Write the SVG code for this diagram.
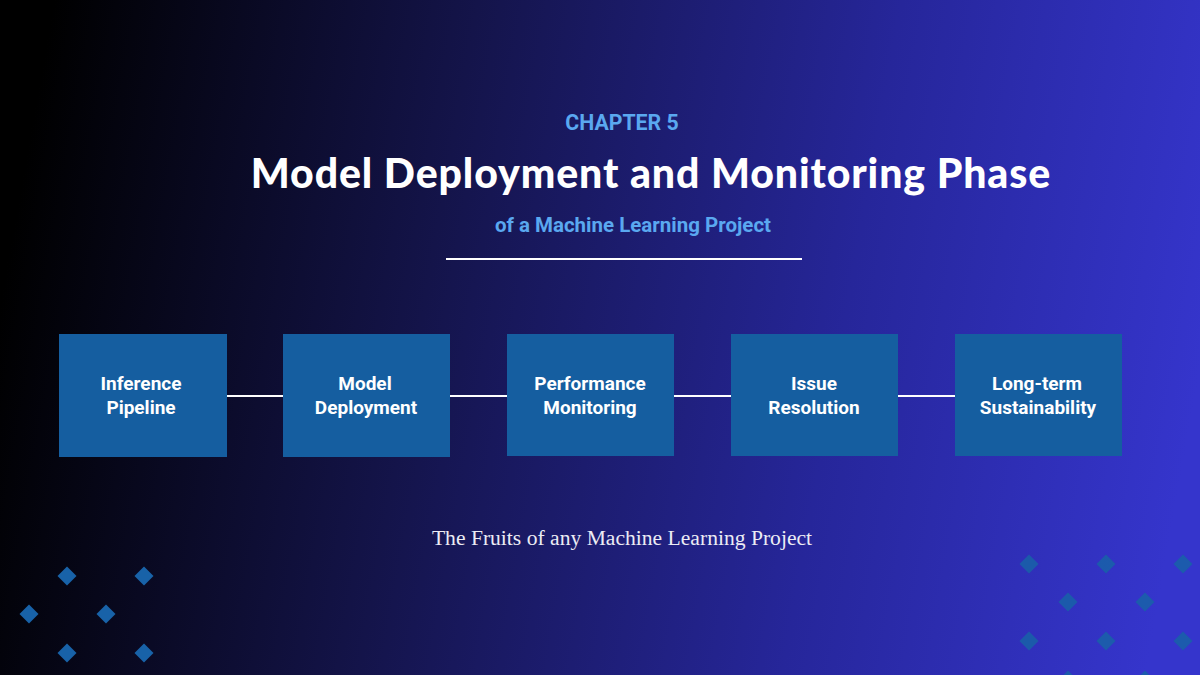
<svg xmlns="http://www.w3.org/2000/svg" width="1200" height="675" viewBox="0 0 1200 675">
<defs>
<linearGradient id="bg" x1="0" y1="0.45" x2="1" y2="0.55">
<stop offset="0" stop-color="#000000"/>
<stop offset="0.35" stop-color="#14144a"/>
<stop offset="0.7" stop-color="#26269a"/>
<stop offset="1" stop-color="#3535cc"/>
</linearGradient>
<style>
.box{fill:#155ea0;}
.lbl{font-family:Roboto,"Liberation Sans",sans-serif;font-weight:700;font-size:19px;fill:#ffffff;text-anchor:middle;}
.conn{stroke:#ffffff;stroke-width:2;}
.dia{fill:#1862a8;}
</style>
<path id="d" d="M0,-9.5 L9.5,0 L0,9.5 L-9.5,0 Z"/>
</defs>
<rect width="1200" height="675" fill="url(#bg)"/>
<text x="622" y="130" font-family="Roboto,'Liberation Sans',sans-serif" font-weight="700" font-size="21.3" fill="#5aa8f0" text-anchor="middle">CHAPTER 5</text>
<text x="651" y="188" font-family="Lato,'Open Sans',sans-serif" font-weight="900" font-size="41" letter-spacing="0.9" fill="#ffffff" text-anchor="middle">Model Deployment and Monitoring Phase</text>
<text x="633" y="232" font-family="Roboto,'Liberation Sans',sans-serif" font-weight="700" font-size="20.5" fill="#5aa8f0" text-anchor="middle">of a Machine Learning Project</text>
<line x1="446" y1="259" x2="802" y2="259" stroke="#ffffff" stroke-width="2"/>
<g id="connectors">
<line class="conn" x1="227" y1="396" x2="283" y2="396"/>
<line class="conn" x1="450" y1="396" x2="507" y2="396"/>
<line class="conn" x1="674" y1="396" x2="731" y2="396"/>
<line class="conn" x1="898" y1="396" x2="955" y2="396"/>
</g>
<g id="n1"><rect class="box" x="59" y="334" width="168" height="123"/><text class="lbl" x="141" y="390">Inference</text><text class="lbl" x="141" y="414">Pipeline</text></g>
<g id="n2"><rect class="box" x="283" y="334" width="167" height="123"/><text class="lbl" x="365" y="390">Model</text><text class="lbl" x="366" y="414">Deployment</text></g>
<g id="n3"><rect class="box" x="507" y="334" width="167" height="122"/><text class="lbl" x="590" y="390">Performance</text><text class="lbl" x="590" y="414">Monitoring</text></g>
<g id="n4"><rect class="box" x="731" y="334" width="167" height="122"/><text class="lbl" x="814" y="390">Issue</text><text class="lbl" x="814" y="414">Resolution</text></g>
<g id="n5"><rect class="box" x="955" y="334" width="167" height="122"/><text class="lbl" x="1037" y="390">Long-term</text><text class="lbl" x="1038" y="414">Sustainability</text></g>
<text x="622" y="545" font-family="'Liberation Serif',serif" font-size="21.6" fill="#ececf4" text-anchor="middle">The Fruits of any Machine Learning Project</text>
<g id="diamonds-left" class="dia">
<use href="#d" x="67" y="576"/><use href="#d" x="144" y="576"/>
<use href="#d" x="29" y="614"/><use href="#d" x="106" y="614"/>
<use href="#d" x="67" y="653"/><use href="#d" x="144" y="653"/>
</g>
<g id="diamonds-right" class="dia" opacity="0.85">
<use href="#d" x="1029" y="564"/><use href="#d" x="1106" y="564"/><use href="#d" x="1183" y="564"/>
<use href="#d" x="1068" y="602"/><use href="#d" x="1145" y="602"/>
<use href="#d" x="1029" y="641"/><use href="#d" x="1106" y="641"/><use href="#d" x="1183" y="641"/>
<use href="#d" x="1068" y="680"/><use href="#d" x="1145" y="680"/>
</g>
</svg>
